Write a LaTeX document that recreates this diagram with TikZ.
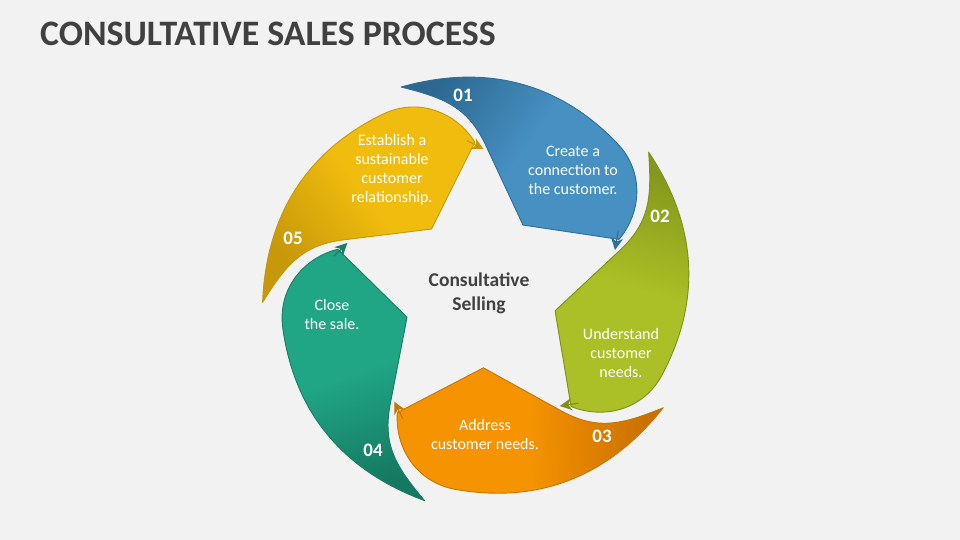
\documentclass[tikz,border=0pt]{standalone}
\usepackage{fontspec}
\setmainfont{Carlito}
\usetikzlibrary{arrows.meta}
\definecolor{bg}{HTML}{F2F2F2}
\definecolor{txtgray}{HTML}{404040}
\definecolor{bluedk}{HTML}{2C6890}
\definecolor{bluemn}{HTML}{4690C2}
\definecolor{blueln}{HTML}{2F6E97}
\definecolor{greendk}{HTML}{84971C}
\definecolor{greenmn}{HTML}{ABBF26}
\definecolor{greenln}{HTML}{7E901A}
\definecolor{orangedk}{HTML}{C46C00}
\definecolor{orangemn}{HTML}{F59300}
\definecolor{orangeln}{HTML}{C77600}
\definecolor{tealdk}{HTML}{157860}
\definecolor{tealmn}{HTML}{20A585}
\definecolor{tealln}{HTML}{187E66}
\definecolor{yellowdk}{HTML}{C6980A}
\definecolor{yellowmn}{HTML}{F0BC0E}
\definecolor{yellowln}{HTML}{C49A08}
\tikzset{
  segtext/.style={text=white, align=center, inner sep=0pt, font=\fontsize{16}{19}\selectfont},
  numtext/.style={text=white, inner sep=0pt, font=\fontsize{19}{20}\selectfont\bfseries},
}
\begin{document}
\begin{tikzpicture}[x=1pt,y=1pt]
\fill[bg] (0,0) rectangle (960,540);
\useasboundingbox (0,0) rectangle (960,540);
\node[anchor=base west, inner sep=0pt, text=txtgray, font=\fontsize{35.8}{40}\selectfont\bfseries] (title) at (40,494) {CONSULTATIVE SALES PROCESS};
\begin{scope}[shift={(480,250)}]
\foreach \o/\dk/\mn/\ln in {0/bluedk/bluemn/blueln, -72/greendk/greenmn/greenln, -144/orangedk/orangemn/orangeln, -216/tealdk/tealmn/tealln, -288/yellowdk/yellowmn/yellowln}{
  \pgfmathsetmacro\sa{55+\o}
  \draw[draw=\ln, line width=0.9pt, line join=round, top color=\dk, bottom color=\mn, middle color=\mn, shading angle=\sa]
    ({\o+111.26}:217.8)
      .. controls ({\o+88.06}:227.5) and ({\o+68.78}:221.0) .. ({\o+47.02}:200.9)
      .. controls ({\o+35.65}:202.8) and ({\o+25.61}:179.1) .. ({\o+20.0}:147.9)
    -- ({\o+56.51}:77.9) -- ({\o+87.18}:142.2)
      .. controls ({\o+93.53}:183.4) and ({\o+100.44}:195.3) .. ({\o+111.26}:217.8)
    -- cycle;
  \coordinate (as\o) at ({\o+23}:150);
  \coordinate (ae\o) at ({\o+16.5}:140.8);
  \draw[draw=\ln, line width=1.2pt, -{Stealth[length=12pt, width=12pt, inset=3.5pt]}] (as\o) -- (ae\o);
}
\end{scope}
\node[numtext] (n1) at (463,445) {01};
\node[numtext] (n2) at (660,324) {02};
\node[numtext] (n3) at (602,104) {03};
\node[numtext] (n4) at (373,90) {04};
\node[numtext] (n5) at (293,302) {05};
\node[segtext] (t1) at (573,370) {Create a\\connection to\\the customer.};
\node[segtext] (t2) at (621,187) {Understand\\customer\\needs.};
\node[segtext] (t3) at (485,105.5) {Address\\customer needs.};
\node[segtext] (t4) at (332,225.5) {Close\\the sale.};
\node[segtext] (t5) at (392,370) {Establish a\\sustainable\\customer\\relationship.};
\node[text=txtgray, align=center, inner sep=0pt, font=\fontsize{19.5}{24}\selectfont\bfseries] (center) at (479,247) {Consultative\\Selling};
\end{tikzpicture}
\end{document}
